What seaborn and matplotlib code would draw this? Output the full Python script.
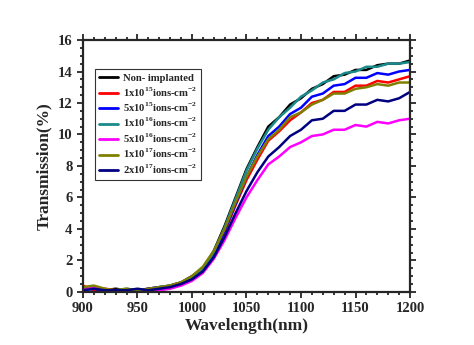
import numpy as np
import pandas as pd
import seaborn as sns
import matplotlib.pyplot as plt
from matplotlib.ticker import MultipleLocator

# ------------------- Data -------------------
wavelength = list(range(900, 1201, 10))

non_implanted = [0.3, 0.2, 0.1, 0.2, 0.1, 0.0, 0.2, 0.3, 0.4, 0.6, 1.0, 1.5, 2.6, 4.2, 6.0, 7.8,
                 9.2, 10.5, 11.1, 11.9, 12.3, 12.9, 13.2, 13.7, 13.8, 14.1, 14.1, 14.4, 14.5, 14.5, 14.7]
dose_1e15 = [0.4, 0.1, 0.2, 0.1, 0.1, 0.0, 0.2, 0.2, 0.4, 0.6, 0.9, 1.5, 2.4, 3.8, 5.5, 7.1,
             8.4, 9.6, 10.2, 10.9, 11.4, 12.0, 12.2, 12.7, 12.7, 13.1, 13.1, 13.4, 13.3, 13.5, 13.7]
dose_5e15 = [0.1, 0.2, 0.1, 0.0, 0.1, 0.1, 0.2, 0.3, 0.3, 0.5, 0.9, 1.4, 2.4, 3.9, 5.6, 7.3,
             8.7, 9.9, 10.5, 11.3, 11.7, 12.4, 12.6, 13.1, 13.2, 13.6, 13.6, 13.9, 13.8, 14.0, 14.1]
dose_1e16 = [0.2, 0.3, 0.1, 0.1, 0.2, 0.1, 0.1, 0.3, 0.4, 0.6, 0.9, 1.5, 2.5, 4.1, 5.9, 7.7,
             9.1, 10.3, 11.1, 11.7, 12.4, 12.8, 13.3, 13.5, 13.9, 14.0, 14.3, 14.3, 14.5, 14.5, 14.6]
dose_5e16 = [0.2, 0.3, 0.1, 0.0, 0.1, 0.0, 0.1, 0.1, 0.2, 0.4, 0.7, 1.2, 2.1, 3.3, 4.7, 6.0,
             7.1, 8.1, 8.6, 9.2, 9.5, 9.9, 10.0, 10.3, 10.3, 10.6, 10.5, 10.8, 10.7, 10.9, 11.0]
dose_1e17 = [0.3, 0.4, 0.2, 0.1, 0.2, 0.1, 0.2, 0.3, 0.4, 0.6, 1.0, 1.6, 2.6, 4.0, 5.7, 7.3,
             8.6, 9.7, 10.3, 11.1, 11.4, 11.9, 12.2, 12.6, 12.6, 12.9, 13.0, 13.2, 13.1, 13.3, 13.3]
dose_2e17 = [0.1, 0.2, 0.1, 0.1, 0.1, 0.2, 0.1, 0.2, 0.3, 0.5, 0.8, 1.3, 2.2, 3.5, 5.0, 6.4,
             7.6, 8.6, 9.2, 9.9, 10.3, 10.9, 11.0, 11.5, 11.5, 11.9, 11.9, 12.2, 12.1, 12.3, 12.7]

labels = ['Non- implanted',
          r'1x10$^{\mathbf{15}}$ions-cm$^{\mathbf{-2}}$',
          r'5x10$^{\mathbf{15}}$ions-cm$^{\mathbf{-2}}$',
          r'1x10$^{\mathbf{16}}$ions-cm$^{\mathbf{-2}}$',
          r'5x10$^{\mathbf{16}}$ions-cm$^{\mathbf{-2}}$',
          r'1x10$^{\mathbf{17}}$ions-cm$^{\mathbf{-2}}$',
          r'2x10$^{\mathbf{17}}$ions-cm$^{\mathbf{-2}}$']
series = [non_implanted, dose_1e15, dose_5e15, dose_1e16, dose_5e16, dose_1e17, dose_2e17]
colors = ['#000000', '#ff0000', '#0000ff', '#1a8a8a', '#ff00ff', '#808000', '#000080']

df = pd.concat([pd.DataFrame({'Wavelength': wavelength, 'T': s, 'Sample': lab})
                for s, lab in zip(series, labels)], ignore_index=True)

# ------------------- Plot -------------------
sns.set_style('ticks')
plt.rcParams['font.family'] = ['Liberation Serif', 'DejaVu Serif']
plt.rcParams['font.weight'] = 'bold'
plt.rcParams['mathtext.fontset'] = 'custom'
plt.rcParams['mathtext.rm'] = 'Liberation Serif:bold'
plt.rcParams['mathtext.bf'] = 'Liberation Serif:bold'

fig = plt.figure(figsize=(4.74, 3.45), dpi=100)
ax = fig.add_axes([0.175, 0.154, 0.69, 0.73])

sns.lineplot(data=df, x='Wavelength', y='T', hue='Sample', hue_order=labels,
             palette=colors, linewidth=1.8, ax=ax)

ax.set_xlim(900, 1200)
ax.set_ylim(0, 16)
ax.xaxis.set_major_locator(MultipleLocator(50))
ax.xaxis.set_minor_locator(MultipleLocator(10))
ax.yaxis.set_major_locator(MultipleLocator(2))
ax.yaxis.set_minor_locator(MultipleLocator(0.5))
ax.tick_params(which='both', direction='out', top=True, right=True, width=1.3)
ax.tick_params(which='major', length=4, labelsize=10.5)
ax.tick_params(which='minor', length=2)
for lab in ax.get_xticklabels() + ax.get_yticklabels():
    lab.set_fontweight('bold')
for sp in ax.spines.values():
    sp.set_linewidth(1.6)

ax.set_xlabel('Wavelength(nm)', fontsize=12.5, fontweight='bold', labelpad=2)
ax.set_ylabel('Transmission(%)', fontsize=12.5, fontweight='bold', labelpad=4)

leg = ax.legend(loc='upper left', bbox_to_anchor=(0.02, 0.905), frameon=True, fancybox=False,
                edgecolor='black', prop={'weight': 'bold', 'size': 7.7},
                handlelength=1.8, handletextpad=0.4, labelspacing=0.22, borderpad=0.4)
leg.get_frame().set_linewidth(0.8)
for h in leg.get_lines():
    h.set_linewidth(2)

fig.savefig('out.png', dpi=100)
